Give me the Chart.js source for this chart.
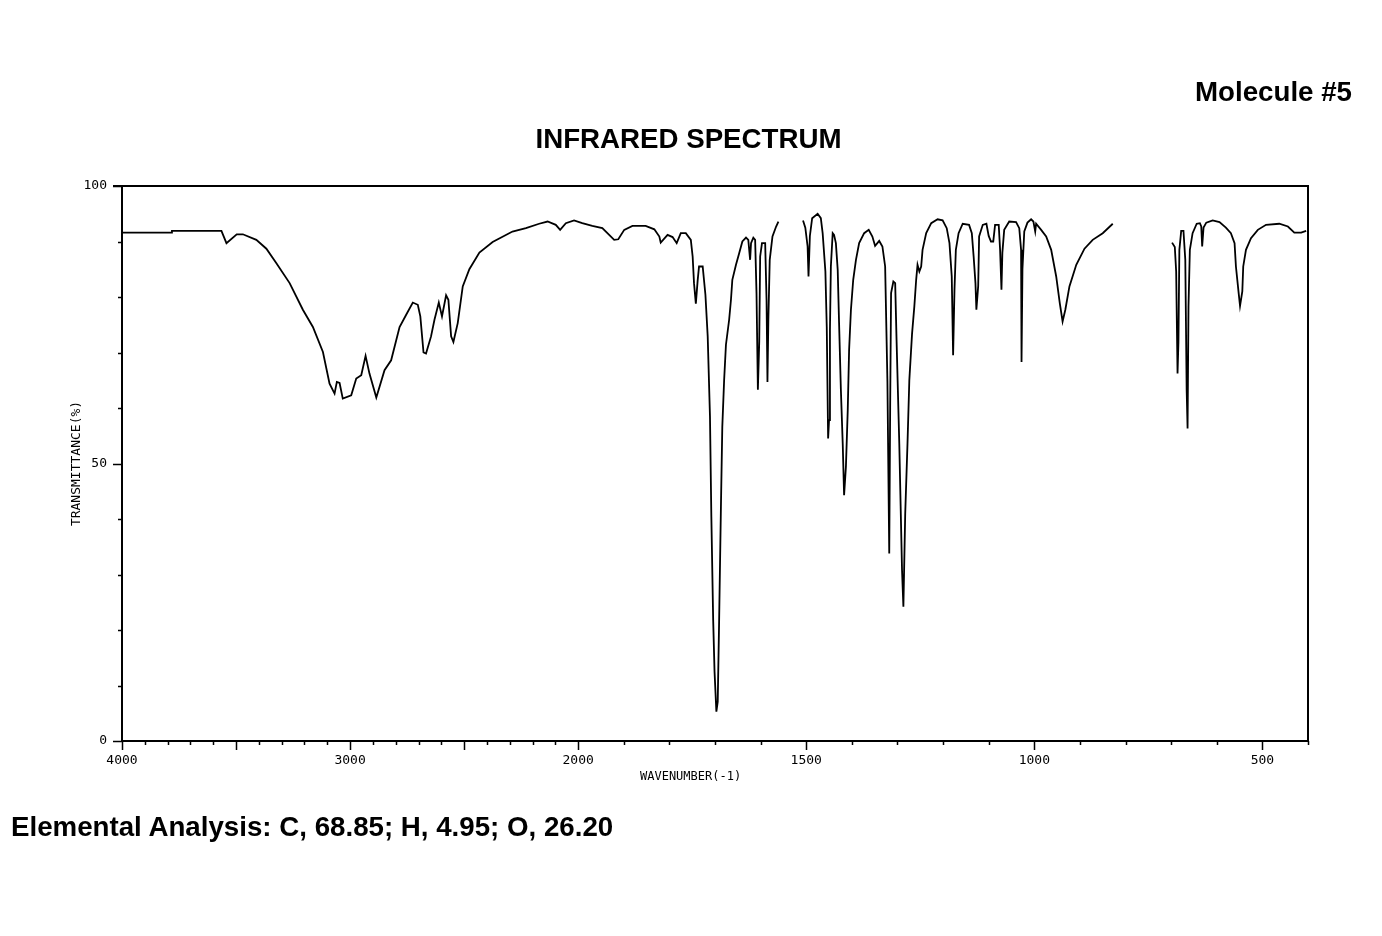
<!DOCTYPE html>
<html>
<head>
<meta charset="utf-8">
<title>Infrared Spectrum - Molecule #5</title>
<script src="https://cdn.jsdelivr.net/npm/chart.js@4.4.1/dist/chart.umd.min.js"></script>
<style>
  html, body { margin: 0; padding: 0; background: #fff; }
  body { width: 1382px; height: 936px; position: relative; overflow: hidden; }
  #irChart { position: absolute; left: 0; top: 0; }
  .txt {
    position: absolute; color: #000; white-space: nowrap; line-height: 1;
    font-family: "Liberation Sans", Arial, sans-serif; font-weight: bold; font-size: 27.7px;
  }
  #molecule { right: 30px; top: 78px; }
  #title { left: 0; width: 1377px; text-align: center; top: 125px; }
  #analysis { left: 11px; top: 813px; }
  #xTitle {
    position: absolute; left: 640px; top: 770px; line-height: 1;
    font-family: "DejaVu Sans Mono", monospace; font-size: 12px; color: #000;
  }
</style>
</head>
<body>
<canvas id="irChart" width="1382" height="936"></canvas>
<div class="txt" id="molecule">Molecule #5</div>
<div class="txt" id="title">INFRARED SPECTRUM</div>
<div class="txt" id="analysis">Elemental Analysis: C, 68.85; H, 4.95; O, 26.20</div>
<div id="xTitle">WAVENUMBER(-1)</div>
<script>
const wavenumbers = [
  4000, 3782, 3781, 3564, 3542, 3497, 3470, 3411, 3367, 3323,
  3265, 3207, 3163, 3119, 3090, 3068, 3058, 3046, 3032, 2995,
  2973, 2951, 2932, 2915, 2885, 2849, 2820, 2783, 2754, 2725,
  2703, 2692, 2678, 2667, 2645, 2630, 2611, 2597, 2579, 2569,
  2557, 2547, 2528, 2506, 2477, 2433, 2375, 2288, 2229, 2171,
  2134, 2098, 2079, 2054, 2018, 1991, 1969, 1947, 1932, 1921,
  1912, 1899, 1881, 1852, 1833, 1822, 1819, 1804, 1793, 1784,
  1775, 1764, 1753, 1749, 1746, 1742, 1738, 1735, 1727, 1721,
  1716, 1711, 1708, 1704, 1701, 1697, 1694, 1691, 1687, 1684,
  1680, 1676, 1669, 1665, 1662, 1654, 1647, 1640, 1632, 1627,
  1623, 1621, 1616, 1612, 1609, 1606, 1603, 1601, 1597, 1590,
  1587, 1585, 1583, 1580, 1574, 1566, 1561, 1535, 1507, 1502,
  1497, 1495, 1492, 1487, 1475, 1468, 1464, 1458, 1455, 1452,
  1450, 1448, 1446, 1442, 1439, 1435, 1431, 1428, 1424, 1420,
  1417, 1413, 1409, 1406, 1402, 1397, 1391, 1384, 1373, 1363,
  1355, 1349, 1340, 1333, 1327, 1322, 1318, 1316, 1314, 1309,
  1305, 1302, 1296, 1290, 1287, 1283, 1278, 1274, 1268, 1263,
  1259, 1256, 1252, 1248, 1245, 1237, 1226, 1212, 1201, 1192,
  1186, 1181, 1178, 1175, 1172, 1166, 1157, 1143, 1137, 1133,
  1129, 1127, 1123, 1121, 1113, 1105, 1100, 1095, 1090, 1086,
  1078, 1075, 1072, 1070, 1066, 1055, 1040, 1033, 1029, 1028,
  1026, 1022, 1015, 1007, 1002, 998, 996, 985, 974, 963,
  952, 944, 938, 932, 923, 908, 890, 872, 850, 828,
  760, 698, 692, 689, 686, 684, 682, 678, 673, 669,
  666, 664, 662, 659, 653, 644, 637, 634, 632, 629,
  623, 609, 594, 580, 569, 561, 558, 552, 549, 544,
  542, 536, 525, 510, 492, 463, 444, 430, 415, 404
];

const transmittance = [
  91.6, 91.6, 91.9, 91.9, 89.7, 91.3, 91.3, 90.3, 88.7, 86.1,
  82.5, 77.7, 74.6, 70.1, 64.4, 62.6, 64.7, 64.5, 61.7, 62.3,
  65.3, 65.9, 69.4, 66.2, 61.9, 66.8, 68.6, 74.6, 76.8, 79.0,
  78.6, 76.5, 70.0, 69.8, 72.9, 75.9, 79.0, 76.5, 80.3, 79.5,
  72.9, 71.9, 75.3, 81.9, 85.0, 88.0, 89.9, 91.8, 92.4, 93.2,
  93.6, 93.0, 92.1, 93.3, 93.8, 93.3, 92.8, 92.4, 91.2, 90.3,
  90.4, 92.1, 92.8, 92.8, 92.2, 90.9, 89.8, 91.2, 90.8, 89.7,
  91.5, 91.5, 90.3, 87.3, 82.5, 78.8, 83.0, 85.5, 85.5, 80.4,
  72.9, 58.4, 40.4, 21.8, 12.5, 5.3, 7.1, 21.5, 42.2, 56.6,
  65.0, 71.4, 75.9, 79.5, 83.1, 85.8, 87.9, 90.0, 90.7, 90.3,
  86.7, 89.7, 90.7, 90.3, 80.7, 63.3, 72.0, 87.3, 89.7, 89.7,
  79.5, 64.7, 76.0, 86.7, 90.9, 92.7, 93.6, null, 93.8, 92.5,
  89.1, 83.7, 91.0, 94.2, 95.0, 94.2, 91.5, 84.6, 74.6, 54.5,
  57.8, 74.0, 85.5, 91.5, 91.2, 89.7, 84.9, 75.3, 63.2, 53.6,
  44.3, 49.4, 59.6, 70.5, 77.7, 83.1, 86.7, 89.7, 91.5, 92.1,
  90.9, 89.2, 90.1, 89.1, 85.5, 64.7, 33.8, 60.0, 80.7, 82.8,
  82.5, 72.3, 53.6, 30.8, 24.2, 41.0, 53.6, 65.0, 73.4, 78.3,
  83.1, 85.8, 84.6, 85.5, 88.5, 91.5, 93.3, 94.0, 93.8, 92.4,
  89.7, 83.7, 69.5, 81.3, 88.5, 91.5, 93.2, 93.0, 91.5, 87.3,
  82.5, 77.7, 82.0, 90.9, 93.0, 93.2, 91.0, 90.0, 90.0, 93.0,
  93.0, 88.5, 81.3, 88.0, 92.1, 93.6, 93.5, 92.4, 88.5, 68.3,
  85.0, 91.8, 93.4, 94.0, 93.6, 91.8, 93.2, 92.1, 90.9, 88.5,
  83.7, 78.8, 75.6, 77.7, 81.9, 85.8, 88.7, 90.3, 91.5, 93.2,
  null, 89.8, 89.0, 84.6, 66.2, 72.0, 88.5, 91.9, 91.9, 86.7,
  63.2, 56.3, 78.3, 88.5, 91.5, 93.2, 93.3, 92.7, 89.1, 92.5,
  93.4, 93.8, 93.5, 92.5, 91.5, 89.7, 85.5, 80.7, 78.4, 81.0,
  85.5, 88.5, 90.6, 92.1, 93.0, 93.2, 92.7, 91.6, 91.6, 91.9
];

const xTickLabels = [4000, 3000, 2000, 1500, 1000, 500];
const yTickLabels = [0, 50, 100];

// Escala partida: 4000-2000 a 1000 cm-1 por división, por debajo de 2000 a 500
const toPos = (wn) => wn >= 2000 ? (4000 - wn) / 1000 : 2 + (2000 - wn) / 500;
const X_MAX = toPos(400);

const points = wavenumbers.map((w, i) => ({ x: toPos(w), y: transmittance[i] }));

const MONO = '"DejaVu Sans Mono", monospace';

/**
 * Marcas de eje + marco superior/derecho
 */
const frameTicks = {
  id: 'frameTicks',
  afterDraw(chart) {
    const { ctx, chartArea: a, scales: { x, y } } = chart;
    ctx.save();
    ctx.strokeStyle = '#000';
    ctx.lineWidth = 2;
    ctx.beginPath();
    ctx.moveTo(a.left - 9, a.top);
    ctx.lineTo(a.right, a.top);
    ctx.lineTo(a.right, a.bottom);
    ctx.stroke();

    ctx.lineWidth = 1.5;
    ctx.beginPath();
    // eje x: cada 100 cm-1, largas cada 500
    for (let w = 4000; w >= 400; w -= 100) {
      const px = Math.round(x.getPixelForValue(toPos(w))) + 0.5;
      const len = (w % 500 === 0) ? 9 : 4;
      ctx.moveTo(px, a.bottom);
      ctx.lineTo(px, a.bottom + len);
    }
    // eje y: cada 10 %, largas en 0/50/100
    for (let t = 0; t <= 100; t += 10) {
      const py = Math.round(y.getPixelForValue(t)) + 0.5;
      const len = (t % 50 === 0) ? 9 : 4;
      ctx.moveTo(a.left, py);
      ctx.lineTo(a.left - len, py);
    }
    ctx.stroke();
    ctx.restore();
  }
};

new Chart(document.getElementById('irChart'), {
  type: 'line',
  data: {
    datasets: [{
      label: 'Transmittance',
      data: points,
      borderColor: '#000',
      borderWidth: 1.8,
      pointRadius: 0,
      tension: 0,
      spanGaps: false,
      fill: false
    }]
  },
  options: {
    responsive: false,
    animation: false,
    layout: { padding: { left: 0, top: 186, right: 74, bottom: 0 } },
    plugins: {
      legend: { display: false },
      tooltip: { enabled: false }
    },
    scales: {
      x: {
        type: 'linear',
        min: 0,
        max: X_MAX,
        afterFit: (s) => { s.height = 195; },
        afterBuildTicks: (s) => { s.ticks = xTickLabels.map(w => ({ value: toPos(w) })); },
        grid: { display: false, drawTicks: false },
        border: { display: true, color: '#000', width: 2 },
        ticks: {
          padding: 12,
          color: '#000',
          maxRotation: 0,
          autoSkip: false,
          font: { family: MONO, size: 13 },
          callback: (v, i) => String(xTickLabels[i])
        }
      },
      y: {
        min: 0,
        max: 100,
        afterFit: (s) => { s.width = 122; },
        afterBuildTicks: (s) => { s.ticks = yTickLabels.map(t => ({ value: t })); },
        grid: { display: false, drawTicks: false },
        border: { display: true, color: '#000', width: 2 },
        ticks: {
          padding: 15,
          color: '#000',
          autoSkip: false,
          font: { family: MONO, size: 13 },
          callback: (v) => String(v)
        },
        title: {
          display: true,
          text: 'TRANSMITTANCE(%)',
          color: '#000',
          font: { family: MONO, size: 13 },
          padding: { top: 69, bottom: 0 }
        }
      }
    }
  },
  plugins: [frameTicks]
});
</script>
</body>
</html>
